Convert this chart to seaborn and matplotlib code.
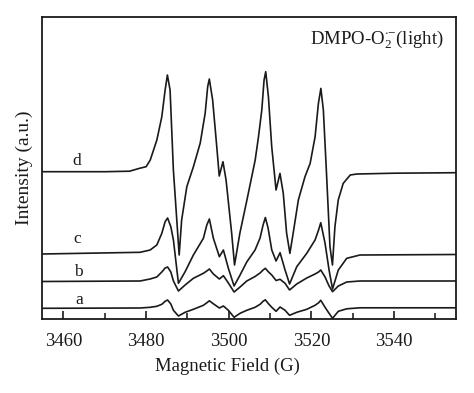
import matplotlib
matplotlib.use("Agg")
import matplotlib.pyplot as plt
import seaborn as sns
import pandas as pd
from matplotlib.ticker import MultipleLocator

# ---------------- data ----------------
# trace d: magnetic field (G) and intensity relative to its own baseline (a.u.)
d_field = [3454.8, 3470.0, 3476.0, 3478.5, 3480.0, 3481.0, 3482.6, 3483.8, 3484.6,
           3485.15, 3485.8, 3486.6, 3488.0, 3488.6, 3489.85, 3491.45, 3493.1, 3494.3,
           3494.9, 3495.3, 3496.1, 3497.1, 3497.7, 3498.6, 3499.35, 3500.7, 3501.4,
           3502.7, 3504.4, 3506.4, 3507.2, 3508.0, 3508.55, 3508.95, 3509.6, 3510.4,
           3511.45, 3512.4, 3513.2, 3514.0, 3514.8, 3515.6, 3516.85, 3518.45, 3519.7,
           3520.9, 3521.7, 3522.3, 3522.9, 3523.7, 3524.5, 3525.1, 3525.7, 3526.5,
           3527.7, 3529.4, 3531.0, 3540.0, 3555.0]
d_int = [0.0, 0.0, 0.5, 3.5, 5.0, 11.7, 31.7, 55.0, 81.7,
         96.7, 81.7, 1.7, -83.3, -48.3, -15.0, 5.0, 28.7, 58.7,
         85.0, 92.7, 71.7, 25.0, -4.3, 10.0, -8.3, -61.3, -93.3,
         -61.3, -28.3, 11.7, 35.0, 61.7, 91.7, 100.0, 75.0, 25.0,
         -18.3, -1.7, -21.7, -61.3, -81.7, -61.3, -28.3, -5.0, 8.3,
         35.0, 68.3, 83.3, 61.7, -5.0, -75.0, -93.3, -55.0, -28.3,
         -11.7, -3.3, -2.3, -1.5, -1.0]

# traces a, b, c share one field grid
abc_field = [3454.84, 3478.55, 3480.97, 3482.59, 3483.80, 3484.60, 3485.20, 3485.98,
             3486.61, 3487.82, 3489.44, 3491.44, 3493.86, 3494.69, 3495.31, 3496.28,
             3497.73, 3498.70, 3499.91, 3501.29, 3502.74, 3504.36, 3506.37, 3507.58,
             3508.31, 3508.86, 3509.52, 3510.41, 3511.45, 3512.42, 3513.63, 3514.72,
             3516.46, 3518.88, 3520.89, 3521.74, 3522.27, 3523.31, 3524.28, 3525.12,
             3526.52, 3528.56, 3531.77, 3555.0]
c_int = [0.0, 1.7, 4.0, 9.0, 20.7, 32.3, 36.0, 27.3,
         14.0, -29.3, -17.7, -1.0, 15.7, 29.0, 35.0, 15.7,
         -2.7, 4.0, -14.3, -32.0, -21.0, -8.0, 4.0, 16.0,
         29.0, 36.5, 26.0, 4.0, -7.0, 1.3, -16.0, -30.0,
         -12.7, 0.7, 14.0, 24.0, 31.3, 10.7, -16.0, -35.0,
         -16.0, -4.3, -1.0, -0.5]
b_int = [-0.5, 0.0, 2.0, 4.0, 9.0, 13.0, 14.0, 9.0,
         0.0, -10.0, -4.0, 2.7, 7.7, 10.0, 12.0, 7.0,
         2.0, 5.3, -2.0, -11.0, -6.0, 0.0, 4.5, 8.0,
         11.0, 12.7, 9.5, 6.0, 0.5, 1.7, -2.3, -9.0,
         -3.0, 3.0, 7.0, 9.0, 11.0, 4.0, -5.0, -10.7,
         -5.0, -1.0, 0.0, 0.0]
a_int = [0.0, 0.3, 1.0, 2.0, 4.0, 7.0, 8.3, 4.3,
         -2.0, -7.7, -4.0, -1.0, 3.0, 5.5, 7.5, 4.5,
         0.3, 2.3, -2.0, -9.0, -5.0, -2.0, 1.0, 4.0,
         7.0, 8.5, 5.0, 1.0, -3.0, 1.3, -2.0, -7.0,
         -4.0, -1.0, 3.0, 5.5, 8.0, 1.0, -5.0, -10.0,
         -3.0, -0.5, 0.5, 0.5]

labels = ["a", "b", "c", "d"]
title_text = r"DMPO-O$_2^{\cdot\mathregular{-}}$(light)"
x_ticks = [3460, 3480, 3500, 3520, 3540]

# ---------------- layout / styling ----------------
offsets = [10.7, 38.0, 65.0, 147.3]          # vertical stacking of the traces
label_x = [3463.9, 3463.7, 3463.2, 3463.1]
label_dy = [4.3, 5.0, 10.7, 6.7]

sns.set_theme(style="ticks")
plt.rcParams["font.family"] = ["Liberation Serif", "DejaVu Serif"]
plt.rcParams["mathtext.fontset"] = "custom"
plt.rcParams["mathtext.rm"] = "Liberation Serif"
plt.rcParams["mathtext.it"] = "Liberation Serif:italic"
plt.rcParams["mathtext.bf"] = "Liberation Serif:bold"

fig = plt.figure(figsize=(4.74, 3.93), dpi=100)
ax = fig.add_axes([0.0886, 0.1883, 0.8734, 0.7684])

series = [(abc_field, a_int), (abc_field, b_int), (abc_field, c_int), (d_field, d_int)]
frames = []
for name, (fx, fy), off in zip(labels, series, offsets):
    frames.append(pd.DataFrame({"field": fx,
                                "intensity": [v + off for v in fy],
                                "trace": name}))
df = pd.concat(frames, ignore_index=True)

for name in labels:
    sub = df[df["trace"] == name]
    sns.lineplot(data=sub, x="field", y="intensity", ax=ax, color="#1a1a1a",
                 linewidth=1.2, sort=False, estimator=None)

for name, lx, off, dy in zip(labels, label_x, offsets, label_dy):
    ax.text(lx, off + dy, name, ha="center", va="baseline", fontsize=12.5,
            color="#1a1a1a")

ax.text(0.969, 0.927, title_text, transform=ax.transAxes, ha="right",
        va="center", fontsize=13.5, color="#1a1a1a")

ax.set_xlim(3454.8, 3555.0)
ax.set_ylim(0, 302)
ax.set_xticks(x_ticks)
ax.xaxis.set_minor_locator(MultipleLocator(10))
ax.set_yticks([])
ax.tick_params(axis="x", which="major", direction="in", length=6, width=1.2,
               labelsize=13.5, pad=10, colors="#1a1a1a")
ax.tick_params(axis="x", which="minor", direction="in", length=4, width=1.2)
for sp in ax.spines.values():
    sp.set_visible(True)
    sp.set_linewidth(1.3)
    sp.set_color("#1a1a1a")
ax.set_xlabel("Magnetic Field (G)", fontsize=13.5, color="#1a1a1a")
ax.xaxis.set_label_coords(0.449, -0.128)
ax.set_ylabel("Intensity (a.u.)", fontsize=14, color="#1a1a1a")
ax.yaxis.set_label_coords(-0.022, 0.5)

fig.savefig("out.png", dpi=100)
